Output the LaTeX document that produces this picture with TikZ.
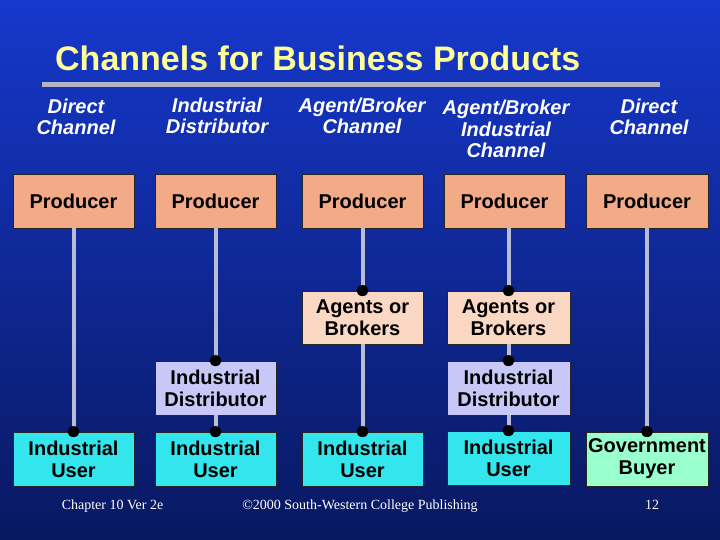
\documentclass[tikz,border=0pt]{standalone}
\usepackage{fontspec}
\setmainfont{Liberation Sans}
\newfontfamily\footfont{Liberation Serif}
\usetikzlibrary{shapes.geometric}
\definecolor{bgtop}{RGB}{22,56,204}
\definecolor{bgmid}{RGB}{10,40,160}
\definecolor{bgbot}{RGB}{8,24,96}
\definecolor{titleyellow}{RGB}{255,255,153}
\definecolor{rulegray}{RGB}{178,180,196}
\definecolor{linegray}{RGB}{184,188,212}
\definecolor{prodfill}{RGB}{242,170,135}
\definecolor{agentfill}{RGB}{250,216,196}
\definecolor{distfill}{RGB}{200,200,248}
\definecolor{userfill}{RGB}{51,230,238}
\definecolor{govfill}{RGB}{153,255,204}
\tikzset{
  box/.style={rectangle, draw=black!85, line width=0.8pt, inner sep=0pt,
    minimum width=121pt, minimum height=54pt, align=center,
    font=\fontsize{20}{22}\selectfont\bfseries, text=black},
  prodbox/.style={box, fill=prodfill},
  agentbox/.style={box, fill=agentfill, minimum height=53pt},
  distbox/.style={box, fill=distfill},
  userbox/.style={box, fill=userfill},
  govbox/.style={box, fill=govfill},
  heading/.style={anchor=north, inner sep=0pt, align=center, text=white,
    font=\fontsize{20}{21.5}\selectfont\bfseries\itshape},
  link/.style={draw=linegray, line width=4pt},
  joint/.style={fill=black, draw=none},
  foot/.style={inner sep=0pt, anchor=base, text=white, font=\footfont\fontsize{14}{16}\selectfont}
}
\begin{document}
\begin{tikzpicture}[x=1pt,y=-1pt]
\useasboundingbox (0,0) rectangle (720,540);
\shade[top color=bgtop, middle color=bgmid, bottom color=bgbot] (0,0) rectangle (720,540);

% title and rule
\node[anchor=base west, inner sep=0pt, text=titleyellow, font=\fontsize{34}{38}\selectfont\bfseries] (title) at (55,71) {Channels for Business Products};
\fill[rulegray] (42,82) rectangle (660,87);

% headings
\node[heading] (h1) at (76,98.4) {Direct\\Channel};
\node[heading] (h2) at (217,97.5) {Industrial\\Distributor};
\node[heading] (h3) at (362,97.5) {Agent/Broker\\Channel};
\node[heading] (h4) at (506,100) {Agent/Broker\\Industrial\\Channel};
\node[heading] (h5) at (649,98.4) {Direct\\Channel};

% producers
\node[prodbox] (p1) at (73.5,201) {Producer};
\node[prodbox] (p2) at (215.5,201) {Producer};
\node[prodbox] (p3) at (362.5,201) {Producer};
\node[prodbox] (p4) at (504.5,201) {Producer};
\node[prodbox, minimum width=122pt] (p5) at (647,201) {Producer};

% agents
\node[agentbox] (a3) at (362.5,317.5) {Agents or\\Brokers};
\node[agentbox, minimum width=123pt] (a4) at (508.5,317.5) {Agents or\\Brokers};

% distributors
\node[distbox] (d2) at (215.5,388) {Industrial\\Distributor};
\node[distbox, minimum width=123pt] (d4) at (508.5,388) {Industrial\\Distributor};

% users
\node[userbox] (u1) at (73.5,459) {Industrial\\User};
\node[userbox] (u2) at (215.5,459) {Industrial\\User};
\node[userbox] (u3) at (362.5,459) {Industrial\\User};
\node[userbox, minimum width=123pt] (u4) at (508.5,458) {Industrial\\User};
\node[govbox, minimum width=122pt] (g5) at (647,459) {Government\\Buyer};

% connectors
\foreach \up/\down in {p1/u1, p2/d2, d2/u2, p3/a3, a3/u3, p4/a4, a4/d4, d4/u4, p5/g5} {
  \draw[link] (\down.north) -- (\down.north |- \up.south);
  \fill[joint] (\down.north) ellipse [x radius=6pt, y radius=5.5pt];
}

% footer
\node[foot] (f1) at (112.5,509) {Chapter 10 Ver 2e};
\node[foot] (f2) at (360,509) {\textcopyright2000 South-Western College Publishing};
\node[foot] (f3) at (652,509) {12};
\end{tikzpicture}
\end{document}
